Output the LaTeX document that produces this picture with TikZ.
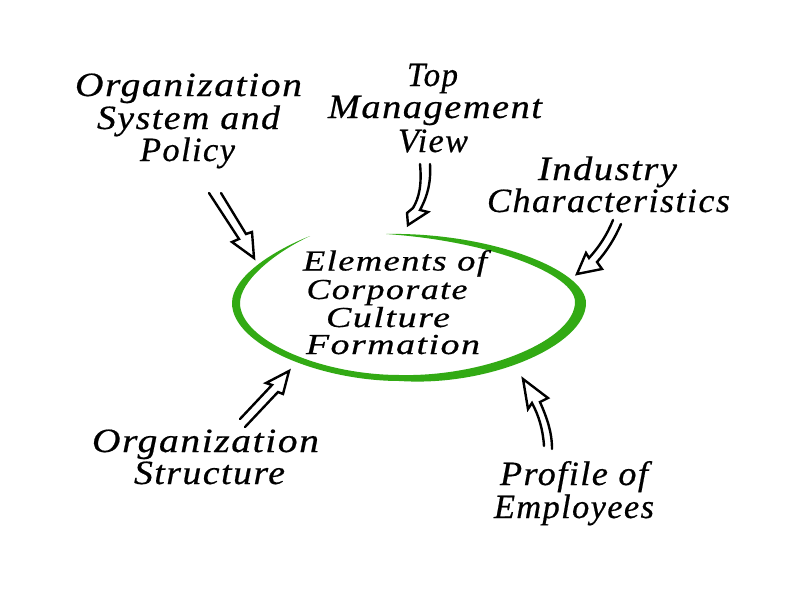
\documentclass[tikz,border=0pt]{standalone}
\usepackage{fontspec}
\usepackage{graphicx}
\setmainfont{Liberation Serif}[ItalicFeatures={LetterSpace=4,FakeBold=0.5}]
\newcommand{\fw}[2]{\resizebox{#1pt}{\height}{#2}}
\tikzset{
  lbl/.style={font=\fontsize{34}{34}\selectfont\itshape, inner sep=0pt, anchor=base},
  mid/.style={font=\fontsize{29}{29}\selectfont\itshape, inner sep=0pt, anchor=base},
  arw/.style={draw=black, line width=2.4pt, line join=miter, line cap=round},
}
\definecolor{ringgreen}{RGB}{50,170,20}
\begin{document}
\begin{tikzpicture}[x=1pt,y=-1pt]
\useasboundingbox (0,0) rectangle (800,603);
\fill[white] (0,0) rectangle (800,603);
% ring
\fill[ringgreen] (310,236) .. controls (270,252) and (232,278) .. (232,303)
  .. controls (232,345) and (320,381) .. (400,381)
  .. controls (490,387) and (586,345) .. (586,303)
  .. controls (586,270) and (490,232) .. (386,234)
  .. controls (490,241) and (575,274) .. (575,302)
  .. controls (575,340) and (485,377) .. (400,375)
  .. controls (320,375) and (240,340) .. (240,303)
  .. controls (240,282) and (272,254) .. (310,236) -- cycle;
% labels
\node[lbl] (org1) at (188.5,96) {\fw{227}{Organization}};
\node[lbl] (org2) at (188.5,129) {\fw{183}{System and}};
\node[lbl] (org3) at (187.5,161) {\fw{95}{Policy}};
\node[lbl] (top1) at (432.5,86) {\fw{51}{Top}};
\node[lbl] (top2) at (435,118) {\fw{214}{Management}};
\node[lbl] (top3) at (433,152) {\fw{70}{View}};
\node[lbl] (ind1) at (607.5,180) {\fw{139}{Industry}};
\node[lbl] (ind2) at (608.5,212) {\fw{243}{Characteristics}};
\node[mid] (el1) at (395,270.5) {\fw{184}{Elements of}};
\node[mid] (el2) at (387,299) {\fw{161}{Corporate}};
\node[mid] (el3) at (388,327) {\fw{124}{Culture}};
\node[mid] (el4) at (393,354) {\fw{174}{Formation}};
\node[lbl] (st1) at (205.5,452) {\fw{227}{Organization}};
\node[lbl] (st2) at (209.5,484) {\fw{151}{Structure}};
\node[lbl] (pr1) at (574,485) {\fw{148}{Profile of}};
\node[lbl] (pr2) at (574,518) {\fw{160}{Employees}};
% arrows
\draw[arw] (209,193) -- (239,239) -- (232,242) -- (254,258) -- (252,232) -- (246,234) -- (221,193);
\draw[arw] (420,164) .. controls (422,185) and (419,198) .. (413,208) -- (407,213) -- (408,225) -- (428,212) -- (420,210) .. controls (428,195) and (431,182) .. (430,164);
\draw[arw] (613,220) .. controls (607,235) and (599,247) .. (589,258) -- (586,253) -- (577,274) -- (602,269) -- (597,262) .. controls (607,251) and (615,238) .. (621,224);
\draw[arw] (240,419) -- (272,385) -- (266,383) -- (289,371) -- (283,394) -- (278,392) -- (245,427);
\draw[arw] (544,446) .. controls (543,430) and (539,416) .. (532,403) -- (528,409) -- (523,379) -- (548,398) -- (540,402) .. controls (547,418) and (552,432) .. (552,449);
\end{tikzpicture}
\end{document}
